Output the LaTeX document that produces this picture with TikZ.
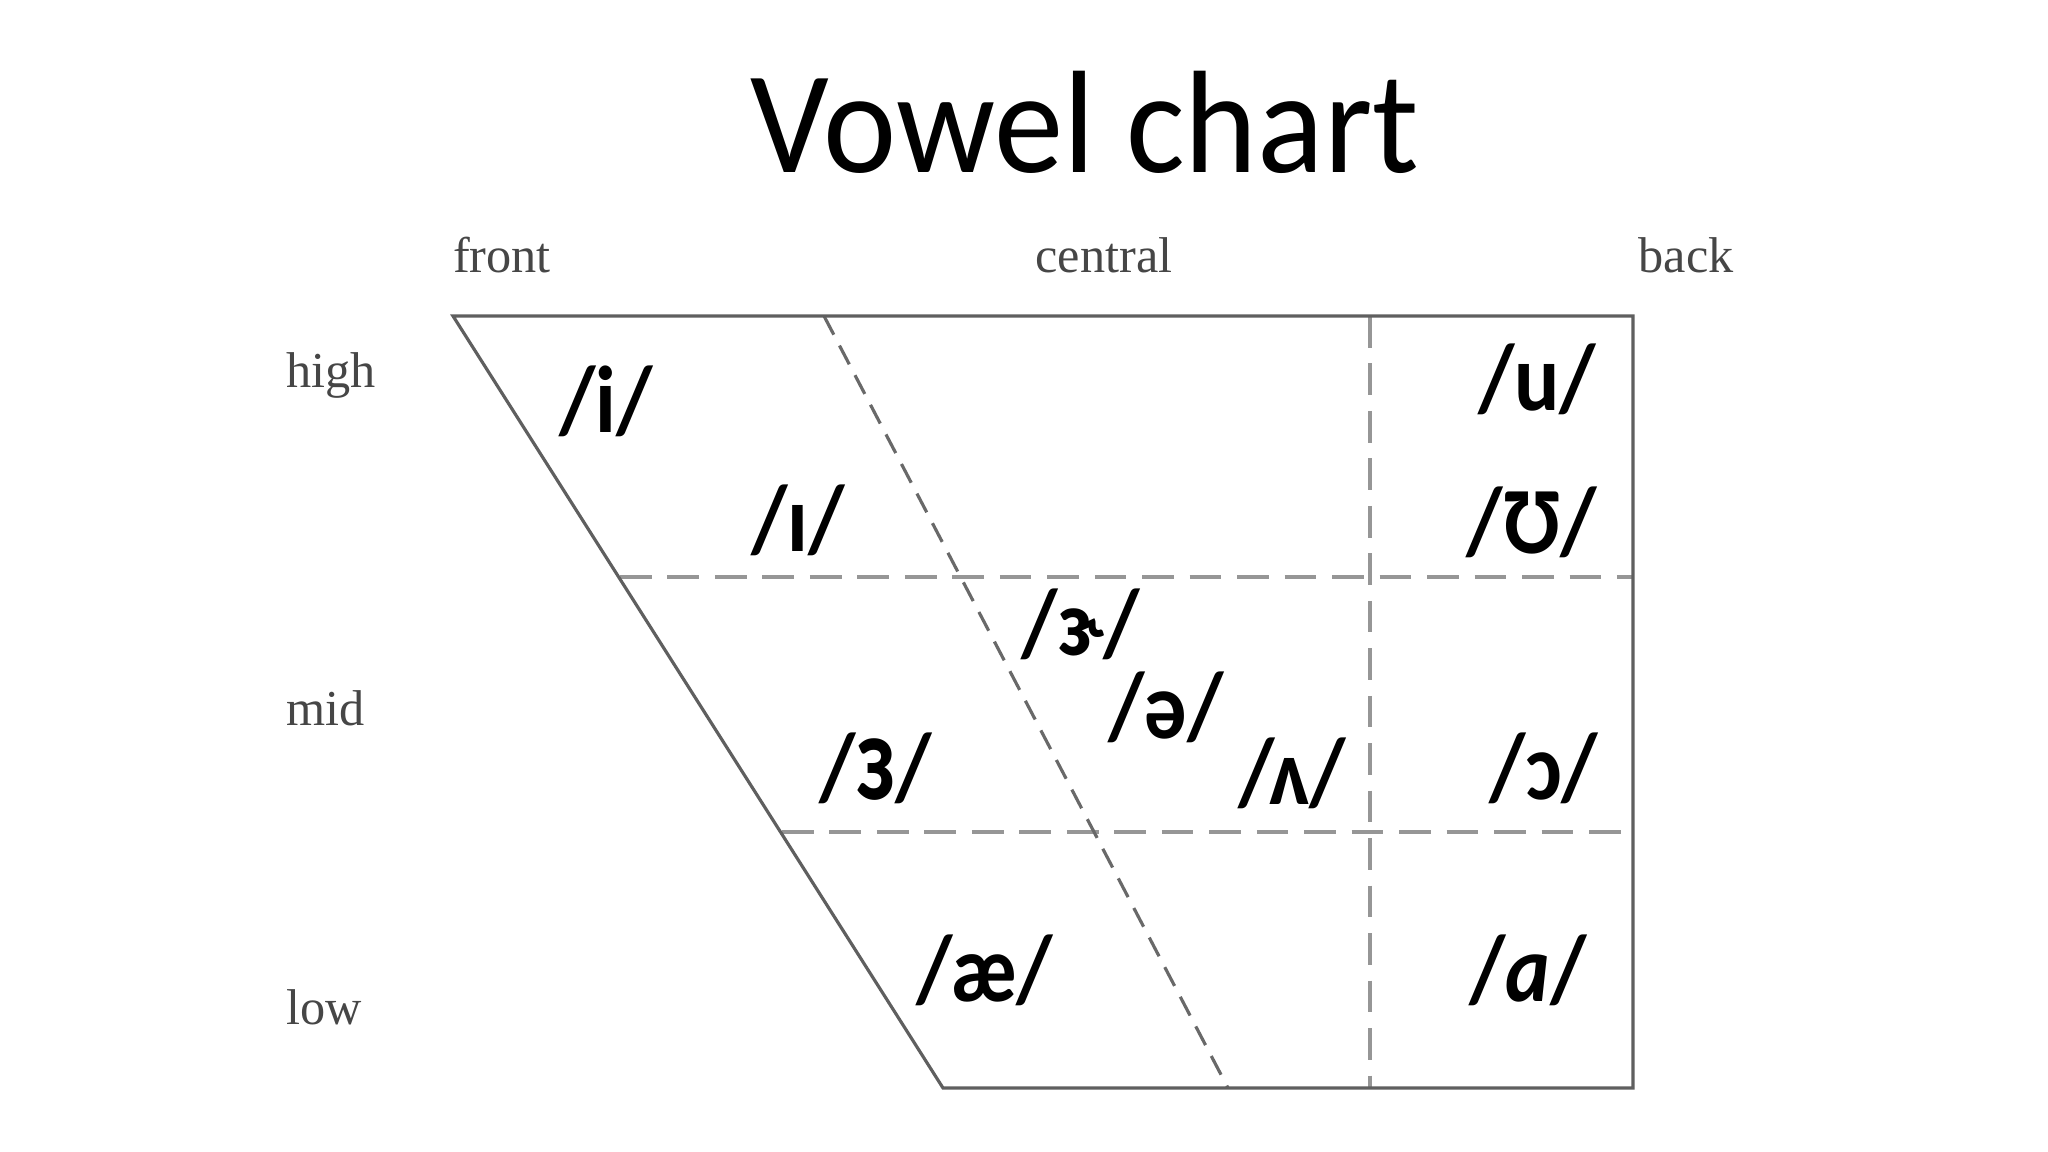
\documentclass[tikz,border=0pt]{standalone}
\usepackage{fontspec}
\setmainfont{Carlito}
\newfontfamily\labserif{Liberation Serif}
\definecolor{frame}{RGB}{95,95,95}
\definecolor{dash}{RGB}{150,150,150}
\definecolor{diag}{RGB}{105,105,105}
\definecolor{labgray}{RGB}{70,70,70}
\newcommand{\vw}[1]{\scalebox{0.89}[1]{#1}}
\begin{document}
\begin{tikzpicture}[x=0.01cm,y=-0.01cm,
  axislab/.style={font=\labserif\fontsize{14.3}{16}\selectfont, text=labgray, inner sep=0pt},
  vowel/.style={font=\bfseries\fontsize{27}{30}\selectfont, inner sep=0pt},
  solidline/.style={draw=frame, line width=0.9pt},
  dashline/.style={draw=dash, line width=0.9pt, dash pattern=on 9pt off 4.5pt},
  diagline/.style={draw=diag, line width=0.9pt, dash pattern=on 6pt off 3.5pt}]
\path[use as bounding box, fill=white] (0,0) rectangle (2048,1152);
% title
\node (title) at (1085,122) {\fontsize{41.5}{48}\selectfont\scalebox{0.95}[1]{Vowel chart}};
% corners
\coordinate (tl) at (453,316);
\coordinate (tr) at (1633,316);
\coordinate (br) at (1633,1088);
\coordinate (bl) at (943,1088);
\coordinate (dtop) at (824,316);
\coordinate (dbot) at (1228,1088);
\coordinate (vtop) at (1370,316);
\coordinate (vbot) at (1370,1088);
\coordinate (h1l) at (620,577);
\coordinate (h1r) at (1633,577);
\coordinate (h2l) at (782,832);
\coordinate (h2r) at (1633,832);
% dashed lines
\draw[dashline] (h1l) -- (h1r);
\draw[dashline] (h2l) -- (h2r);
\draw[dashline] (vtop) -- (vbot);
\draw[diagline] (dtop) -- (dbot);
% frame
\draw[solidline, line join=miter] (tl) -- (tr) -- (br) -- (bl) -- cycle;
% axis labels
\node[axislab] (front) at (502,255) {front};
\node[axislab] (central) at (1104,255) {central};
\node[axislab] (back) at (1686,255) {back};
\node[axislab, anchor=west] (high) at (286,375) {high};
\node[axislab, anchor=west] (mid) at (286,708) {mid};
\node[axislab, anchor=west] (low) at (286,1007) {low};
% vowels
\node[vowel] (vi) at (606,401) {\vw{/i/}};
\node[vowel] (vI) at (798,520) {\vw{/ı/}};
\node[vowel] (vu) at (1537,379) {\vw{/u/}};
\node[vowel] (vU) at (1532,522) {\vw{/Ʊ/}};
\node[vowel] (ver) at (1081,624) {\vw{/ɝ/}};
\node[vowel] (vschwa) at (1166,707) {\vw{/ə/}};
\node[vowel] (vwedge) at (1292,773) {\vw{/ʌ/}};
\node[vowel] (veps) at (876,768) {\vw{/\scalebox{1.1}[1.3]{ɜ}/}};
\node[vowel] (vopen) at (1544,768) {\vw{/ɔ/}};
\node[vowel] (vae) at (985,970) {\vw{/æ/}};
\node[vowel] (va) at (1528,970) {\vw{/\textit{a}/}};
\end{tikzpicture}
\end{document}
